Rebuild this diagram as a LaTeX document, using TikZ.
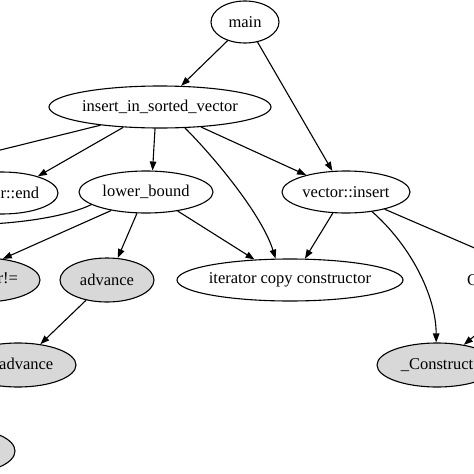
\documentclass[tikz,border=0pt]{standalone}
\usepackage{fontspec}
\setmainfont{Liberation Serif}
\usetikzlibrary{shapes.geometric,arrows.meta}
\definecolor{nodegray}{RGB}{216,216,216}
\newcommand\zw[1]{\makebox[0pt]{#1}}
\begin{document}
\begin{tikzpicture}[x=1pt,y=-1pt,
  gnode/.style={ellipse, draw=black, line width=1.1pt, inner sep=0pt, fill=white,
                font=\fontsize{16.5}{18}\selectfont},
  grayn/.style={gnode, fill=nodegray},
  edge/.style={line width=1.1pt, -{Triangle[length=9pt,width=6.5pt]}},
  plainedge/.style={line width=1.1pt}]
\useasboundingbox (0,0) rectangle (474,474);
\clip (0,0) rectangle (474,474);
\fill[white] (0,0) rectangle (474,474);

% nodes
\node[gnode, minimum width=68pt, minimum height=42pt] (main) at (245,22) {\zw{main}};
\node[gnode, minimum width=222pt, minimum height=42pt] (isv) at (160,107) {\zw{insert\_in\_sorted\_vector}};
\node[gnode, minimum width=112pt, minimum height=42pt] (vend) at (2,193) {\zw{vector::end}};
\node[gnode, minimum width=134pt, minimum height=42pt] (lb) at (146,192) {\zw{lower\_bound}};
\node[gnode, minimum width=128pt, minimum height=42pt] (vins) at (346,192) {\zw{vector::insert}};
\node[grayn, minimum width=114pt, minimum height=44pt] (opne) at (-17,280) {\zw{operator!=}};
\node[grayn, minimum width=94pt, minimum height=44pt] (adv) at (107,280) {\zw{advance}};
\node[gnode, minimum width=226pt, minimum height=42pt] (icc) at (290,280) {\zw{iterator copy constructor}};
\node[anchor=west, inner sep=0pt, font=\fontsize{16.5}{18}\selectfont] (cnode) at (467,280) {C};
\node[grayn, minimum width=120pt, minimum height=44pt] (cons) at (437,365) {\zw{\_Construct}};
\node[grayn, minimum width=116pt, minimum height=44pt] (uadv) at (18,365) {\zw{\_\_advance}};
\node[grayn, minimum width=100pt, minimum height=44pt] (bl) at (-35,451) {};

% free ends outside the frame
\coordinate (offA) at (-40,160);
\coordinate (offB) at (-10,224);
\coordinate (offR1) at (500,259);
\coordinate (offR2) at (490,323);

% edges
\draw[edge] (main.-133.5) -- (isv.45);
\draw[edge] (main.-58.2) -- (vins.123.7);
\draw[edge] (isv.-151) -- (vend.25.9);
\draw[plainedge] (isv.-163) -- (offA);
\draw[edge] (isv.-103) -- (lb.73);
\draw[edge] (isv.-40) .. controls (215,158) and (262,215) .. (icc.124);
\draw[edge] (isv.-26) -- (vins.157.5);
\draw[edge] (lb.-152) -- (opne.47.7);
\draw[plainedge] (lb.-167) .. controls (70,215) and (30,222) .. (offB);
\draw[edge] (lb.-113) -- (adv.64.4);
\draw[edge] (lb.-31.7) -- (icc.150.4);
\draw[edge] (vins.-122.5) -- (icc.55.7);
\draw[edge] (vins.-37) .. controls (410,245) and (436,295) .. (cons.92.6);
\draw[plainedge] (vins.-24.9) -- (offR1);
\draw[edge] (offR2) -- (cons.37.6);
\draw[edge] (adv.-136) -- (uadv.43.7);
\end{tikzpicture}
\end{document}
